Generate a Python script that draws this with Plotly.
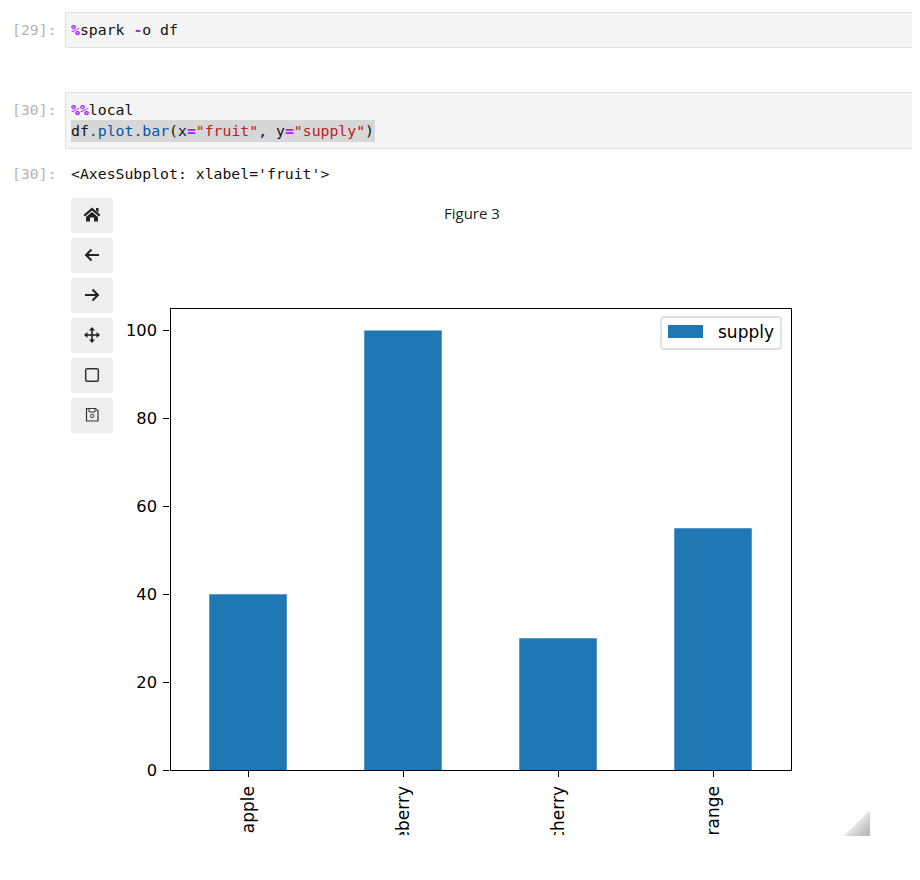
import plotly.graph_objects as go

# chart values
fruit = ["apple", "blueberry", "cherry", "orange"]
supply = [40, 100, 30, 55]
y_ticks = [0, 20, 40, 60, 80, 100]

# page size, the browser body keeps its 8px margin
MARGIN = 8
W = 920 - MARGIN
H = 880 - MARGIN

MONO = "DejaVu Sans Mono"
SANS = "DejaVu Sans"
PURPLE = "#aa22ff"
BLUE = "#0055aa"
RED = "#ba2121"
DARK = "#111111"
PROMPT = "#b5b5b5"


def px(x):
    return (x - MARGIN) / W


def py(y):
    return 1 - (y - MARGIN) / H


def span(text, color=DARK, bold=False):
    s = '<span style="color:%s">%s</span>' % (color, text)
    return "<b>" + s + "</b>" if bold else s


def path(points, close=True):
    d = ""
    for i, p in enumerate(points):
        d += ("M" if i == 0 else "L") + "%.5f,%.5f" % (px(p[0]), py(p[1]))
    return d + ("Z" if close else "")


def round_rect(x0, y0, x1, y1, r):
    def p(a, b):
        return "%.5f,%.5f" % (px(a), py(b))
    return ("M" + p(x0 + r, y0) + "L" + p(x1 - r, y0) + "Q" + p(x1, y0) + " " + p(x1, y0 + r)
            + "L" + p(x1, y1 - r) + "Q" + p(x1, y1) + " " + p(x1 - r, y1)
            + "L" + p(x0 + r, y1) + "Q" + p(x0, y1) + " " + p(x0, y1 - r)
            + "L" + p(x0, y0 + r) + "Q" + p(x0, y0) + " " + p(x0 + r, y0) + "Z")


shapes = []
annotations = []


def rect(x0, y0, x1, y1, fill, line=None, layer="below"):
    shapes.append(dict(type="rect", xref="paper", yref="paper", x0=px(x0), x1=px(x1), y0=py(y0), y1=py(y1),
                       fillcolor=fill, line=dict(color=line or fill, width=1 if line else 0), layer=layer))


def icon(points, fill=None, stroke=None, width=1.0, close=True):
    shapes.append(dict(type="path", xref="paper", yref="paper", path=path(points, close),
                       fillcolor=fill if fill else "rgba(0,0,0,0)",
                       line=dict(color=stroke if stroke else "rgba(0,0,0,0)", width=width if stroke else 0),
                       layer="above"))


def label(x, y, text, size=14.8, family=MONO, color=DARK, anchor="left"):
    annotations.append(dict(xref="paper", yref="paper", x=px(x), y=py(y), text=text, showarrow=False,
                            xanchor=anchor, yanchor="middle", align=anchor,
                            font=dict(family=family, size=size, color=color), borderpad=0, borderwidth=0))


# notebook cells
rect(65.5, 12.5, 930, 47.5, "#f5f5f5", "#e0e0e0")
rect(65.5, 92.5, 930, 148.5, "#f5f5f5", "#e0e0e0")
rect(71, 120, 375, 142, "#d7d7d7")

label(57, 29, "[29]:", color=PROMPT, anchor="right")
label(57, 109, "[30]:", color=PROMPT, anchor="right")
label(57, 173, "[30]:", color=PROMPT, anchor="right")

label(71, 29, span("%", PURPLE, True) + span("spark ") + span("-", PURPLE, True) + span("o df"))
label(71, 109, span("%%", PURPLE, True) + span("local"))
label(71, 130, span("df") + span(".", BLUE) + span("plot", BLUE) + span(".", BLUE) + span("bar", BLUE) + span("(x")
      + span("=", PURPLE, True) + span('"fruit"', RED) + span(", y") + span("=", PURPLE, True)
      + span('"supply"', RED) + span(")"))
label(71, 173, "&lt;AxesSubplot: xlabel='fruit'&gt;")
label(471.5, 212.5, "Figure 3", size=15, family="Open Sans", color="#222222", anchor="center")

# toolbar buttons
for top in [198, 238, 278, 318, 358, 398]:
    shapes.append(dict(type="path", xref="paper", yref="paper", path=round_rect(71, top, 113, top + 35, 2),
                       fillcolor="#eeeeee", line=dict(width=0), layer="below"))

INK = "#222222"
# home
icon([(83.5, 215), (92, 207.5), (100.5, 215), (99, 216.5), (92, 210.5), (85, 216.5)], fill=INK)
icon([(96, 208), (98.5, 208), (98.5, 212.5), (96, 210.5)], fill=INK)
icon([(92, 212), (98, 217), (98, 221.5), (94, 221.5), (94, 217.5), (90, 217.5), (90, 221.5), (86, 221.5), (86, 217)], fill=INK)
# back and forward
icon([(99, 255), (86.5, 255)], stroke=INK, width=2, close=False)
icon([(91.5, 249.5), (86, 255), (91.5, 260.5)], stroke=INK, width=2, close=False)
icon([(85, 295), (97.5, 295)], stroke=INK, width=2, close=False)
icon([(92.5, 289.5), (98, 295), (92.5, 300.5)], stroke=INK, width=2, close=False)
# move
icon([(92, 328), (92, 342)], stroke=INK, width=1.6, close=False)
icon([(85, 335), (99, 335)], stroke=INK, width=1.6, close=False)
icon([(89, 330.5), (92, 327), (95, 330.5)], fill=INK)
icon([(89, 339.5), (92, 343), (95, 339.5)], fill=INK)
icon([(87.5, 332), (84, 335), (87.5, 338)], fill=INK)
icon([(96.5, 332), (100, 335), (96.5, 338)], fill=INK)
# zoom rectangle
shapes.append(dict(type="path", xref="paper", yref="paper", path=round_rect(85.7, 368.7, 98.3, 381.3, 1.5),
                   fillcolor="rgba(0,0,0,0)", line=dict(color="#333333", width=1.5), layer="above"))
# save
icon([(86.5, 408.5), (95.5, 408.5), (98, 411), (98, 421), (86.5, 421)], stroke="#333333", width=1.2)
icon([(89, 408.5), (89, 412), (95, 412), (95, 408.5)], stroke="#333333", width=1)
shapes.append(dict(type="circle", xref="paper", yref="paper", x0=px(90.5), x1=px(94), y0=py(414.2), y1=py(417.7),
                   fillcolor="rgba(0,0,0,0)", line=dict(color="#333333", width=1), layer="above"))

# canvas edge cuts the long tick labels
rect(130, 835, 830, 880, "#ffffff", layer="above")

# resize corner
for off, grey in [(0, "#e2e2e2"), (4, "#d8d8d8"), (8, "#cfcfcf"), (12, "#c6c6c6"), (16, "#bebebe"), (20, "#b8b8b8")]:
    icon([(844 + off, 836), (870, 810 + off), (870, 836)], fill=grey)

# legend
shapes.append(dict(type="path", xref="paper", yref="paper", path=round_rect(661, 317, 781, 349, 3),
                   fillcolor="#ffffff", line=dict(color="#d5d5d5", width=1.3), layer="above"))
rect(668, 325, 703, 338, "#1f77b4", layer="above")
label(718, 331.5, "supply", size=17, family=SANS, color="#000000")

fig = go.Figure(go.Bar(x=fruit, y=supply, width=0.5, marker=dict(color="#1f77b4", line=dict(width=0))))

fig.update_layout(
    width=W,
    height=H,
    margin=dict(l=0, r=0, t=0, b=0),
    paper_bgcolor="#ffffff",
    plot_bgcolor="#ffffff",
    showlegend=False,
    shapes=shapes,
    annotations=annotations,
    xaxis=dict(
        domain=[px(170.5), px(790.5)],
        automargin=False,
        type="category",
        categoryorder="array",
        categoryarray=fruit,
        range=[-0.5, 3.5],
        showgrid=False,
        zeroline=False,
        showline=True,
        mirror=True,
        linecolor="#000000",
        linewidth=1.4,
        ticks="outside",
        ticklen=6,
        tickwidth=1.2,
        tickcolor="#000000",
        tickangle=-90,
        ticklabelstandoff=2,
        tickfont=dict(family=SANS, size=17, color="#000000"),
    ),
    yaxis=dict(
        domain=[py(770), py(308.5)],
        automargin=False,
        range=[0, 105],
        tickvals=y_ticks,
        showgrid=False,
        zeroline=False,
        showline=True,
        mirror=True,
        linecolor="#000000",
        linewidth=1.4,
        ticks="outside",
        ticklen=6,
        tickwidth=1.2,
        tickcolor="#000000",
        ticklabelstandoff=3,
        tickfont=dict(family=SANS, size=16.3, color="#000000"),
    ),
)

fig.write_html("out.html")
